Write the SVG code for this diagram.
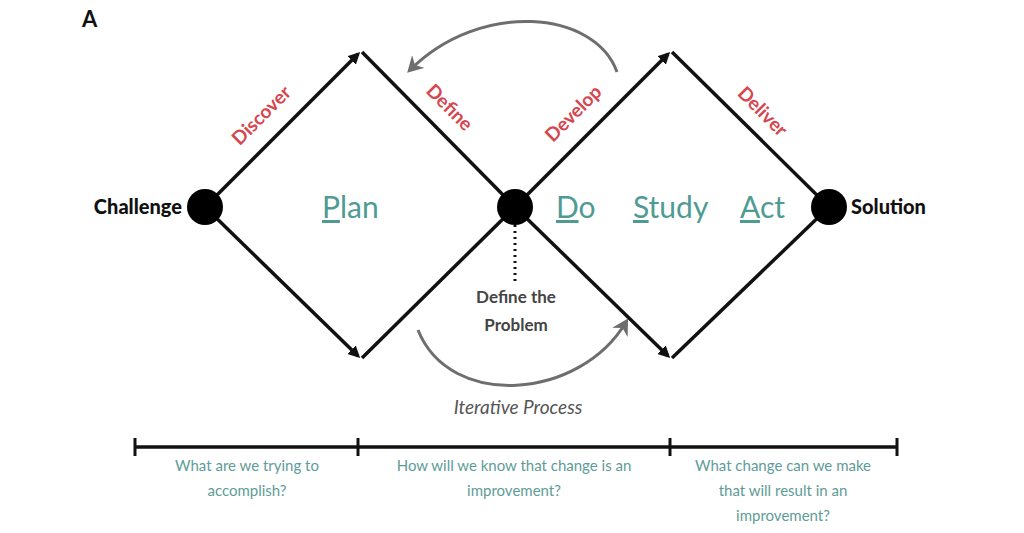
<svg xmlns="http://www.w3.org/2000/svg" width="1024" height="533" viewBox="0 0 1024 533">
<style>
text{font-family:Lato,"Liberation Sans",sans-serif}
.ln{stroke:#111;stroke-width:3.5;fill:none}
.red{fill:#d5464f;font-size:19px;font-weight:bold}
.pdsa{fill:#4f9b94;font-size:30px}
.u{text-decoration:underline}
.q{fill:#5e9c98;font-size:15px;text-anchor:middle}
.cur{stroke:#6e6e6e;stroke-width:3;fill:none}
</style>
<defs>
<marker id="ah" markerWidth="12" markerHeight="12" refX="9" refY="6" orient="auto" markerUnits="userSpaceOnUse"><path d="M0,0 L12,6 L0,12 z" fill="#111"/></marker>
<marker id="gh" markerWidth="18" markerHeight="18" refX="12" refY="9" orient="auto" markerUnits="userSpaceOnUse"><path d="M0,0 L16,9 L0,18 L5,9 z" fill="#6e6e6e"/></marker>
</defs>
<rect width="1024" height="533" fill="#fff"/>
<text x="82" y="27" font-size="22" font-weight="bold" fill="#111">A</text>
<g id="connectors">
<line class="ln" x1="205" y1="207" x2="358" y2="54" marker-end="url(#ah)"/>
<line class="ln" x1="362" y1="52" x2="515" y2="207"/>
<line class="ln" x1="205" y1="207" x2="358" y2="356" marker-end="url(#ah)"/>
<line class="ln" x1="362" y1="358" x2="515" y2="207"/>
<line class="ln" x1="515" y1="207" x2="668" y2="54" marker-end="url(#ah)"/>
<line class="ln" x1="672" y1="52" x2="829" y2="207"/>
<line class="ln" x1="515" y1="207" x2="668" y2="356" marker-end="url(#ah)"/>
<line class="ln" x1="672" y1="358" x2="829" y2="207"/>
<line x1="515" y1="225" x2="515" y2="282" stroke="#111" stroke-width="3" stroke-dasharray="2,4"/>
<path class="cur" d="M617,72 C595,10 480,0 410,70" marker-end="url(#gh)"/>
<path class="cur" d="M418,330 C450,410 580,400 626,322" marker-end="url(#gh)"/>
</g>
<g id="challenge"><circle cx="205" cy="207" r="18" fill="#000"/><text x="182" y="214" font-size="20" font-weight="900" text-anchor="end" fill="#111">Challenge</text></g>
<g id="center"><circle cx="515" cy="207" r="18" fill="#000"/></g>
<g id="solution"><circle cx="829" cy="207" r="18" fill="#000"/><text x="851" y="214" font-size="20" font-weight="900" fill="#111">Solution</text></g>
<g id="labels">
<text class="red" transform="translate(266,120) rotate(-45)" text-anchor="middle">Discover</text>
<text class="red" transform="translate(445,112) rotate(45)" text-anchor="middle">Define</text>
<text class="red" transform="translate(578,118) rotate(-45)" text-anchor="middle">Develop</text>
<text class="red" transform="translate(758,116) rotate(45)" text-anchor="middle">Deliver</text>
<text class="pdsa" x="322" y="218"><tspan class="u">P</tspan>lan</text>
<text class="pdsa" x="556" y="218"><tspan class="u">D</tspan>o</text>
<text class="pdsa" x="633" y="218"><tspan class="u">S</tspan>tudy</text>
<text class="pdsa" x="740" y="218"><tspan class="u">A</tspan>ct</text>
<text x="516" y="303" font-size="17" font-weight="bold" fill="#444" text-anchor="middle">Define the</text>
<text x="516" y="331" font-size="17" font-weight="bold" fill="#444" text-anchor="middle">Problem</text>
<text x="518" y="414" font-size="19" font-style="italic" fill="#555" text-anchor="middle">Iterative Process</text>
</g>
<g id="timeline">
<line x1="135" y1="447" x2="897" y2="447" stroke="#111" stroke-width="3.5"/>
<line x1="135" y1="438" x2="135" y2="456" stroke="#111" stroke-width="3"/>
<line x1="358" y1="438" x2="358" y2="456" stroke="#111" stroke-width="3"/>
<line x1="670" y1="438" x2="670" y2="456" stroke="#111" stroke-width="3"/>
<line x1="897" y1="438" x2="897" y2="456" stroke="#111" stroke-width="3"/>
<text class="q" x="247" y="471">What are we trying to</text>
<text class="q" x="247" y="496">accomplish?</text>
<text class="q" x="514" y="471">How will we know that change is an</text>
<text class="q" x="514" y="496">improvement?</text>
<text class="q" x="783" y="471">What change can we make</text>
<text class="q" x="783" y="496">that will result in an</text>
<text class="q" x="783" y="521">improvement?</text>
</g>
</svg>
